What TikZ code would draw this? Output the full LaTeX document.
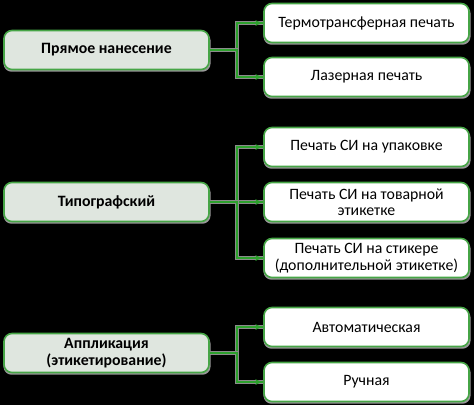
\documentclass[tikz,border=0pt]{standalone}
\usepackage{fontspec}
\setmainfont{Carlito}
\usetikzlibrary{arrows}
\usetikzlibrary{decorations.markings}
\usetikzlibrary{shadows}
\definecolor{mgreen}{RGB}{70, 165, 70}
\definecolor{lgreen}{RGB}{45, 160, 45}
\definecolor{mgrey}{RGB}{223, 230, 223}
\tikzset{box/.style = {draw=mgreen, line width=1.6pt, rounded corners=8pt,
                       minimum width=205pt, minimum height=39pt, inner sep=2pt,
                       align=center, font=\fontsize{15.8}{16.5}\selectfont,
                       general shadow={fill=black!40!white, shadow xshift=0.5pt,
                                       shadow yshift=-2pt, shadow scale=1.01}}}
\tikzset{main/.style = {box, fill=mgrey, font=\fontsize{15.8}{16.5}\selectfont\bfseries}}
\tikzset{leaf/.style = {box, fill=white}}
\tikzset{tip/.style = {decoration={markings,
                                   mark=at position 1 with {\arrow[scale=0.9]{latex'}}},
                       postaction={decorate}}}
\tikzset{link/.style = {draw=lgreen, line width=2pt, tip,
                        preaction={draw=black!45!white, line width=3.5pt}}}

\begin{document}
\begin{tikzpicture}[x=1pt, y=-1pt]
    \useasboundingbox [fill=black] (0, 0) rectangle (474, 405);

    \node [main] (pn) at (106.5, 50) {Прямое нанесение};
    \node [main] (tp) at (106.5, 202) {Типографский};
    \node [main] (ap) at (106.5, 353) {Аппликация\\(этикетирование)};

    \node [leaf] (tt) at (366.5, 23) {Термотрансферная печать};
    \node [leaf] (lp) at (366.5, 77) {Лазерная печать};
    \node [leaf] (up) at (366.5, 147) {Печать СИ на упаковке};
    \node [leaf] (tv) at (366.5, 202) {Печать СИ на товарной\\этикетке};
    \node [leaf] (st) at (366.5, 258) {Печать СИ на стикере\\(дополнительной этикетке)};
    \node [leaf] (av) at (366.5, 327) {Автоматическая};
    \node [leaf] (ru) at (366.5, 382) {Ручная};

    \draw [link] (pn.east) -- ++(27, 0) |- (tt.west);
    \draw [link] (pn.east) -- ++(27, 0) |- (lp.west);

    \draw [link] (tp.east) -- ++(27, 0) |- (up.west);
    \draw [link] (tp.east) -- (tv.west);
    \draw [link] (tp.east) -- ++(27, 0) |- (st.west);

    \draw [link] (ap.east) -- ++(27, 0) |- (av.west);
    \draw [link] (ap.east) -- ++(27, 0) |- (ru.west);

  \end{tikzpicture}
\end{document}
